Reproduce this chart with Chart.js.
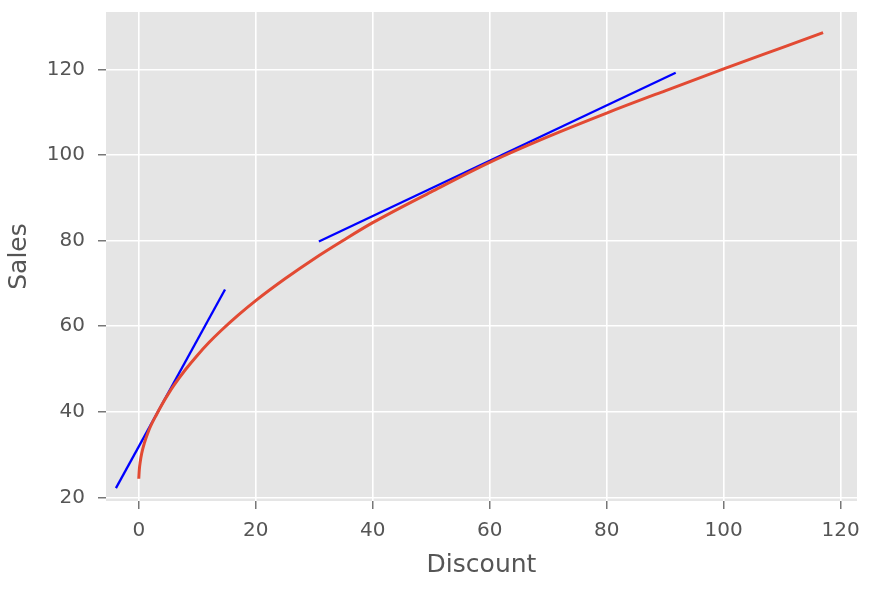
<!DOCTYPE html>
<html>
<head>
<meta charset="utf-8">
<script src="https://cdn.jsdelivr.net/npm/chart.js@4"></script>
<style>
  html, body { margin: 0; padding: 0; background: #fff; }
  #wrap { width: 874px; height: 592px; }
</style>
</head>
<body>
<div id="wrap"><canvas id="chart"></canvas></div>
<script>
// red curve
var discount = [0, 0.1, 0.25, 0.5, 1, 1.5, 2, 3, 4, 5, 6, 8, 10, 12, 14, 17, 20, 25, 30, 35, 40, 50, 60, 70, 80, 90, 100, 110, 117];
var sales = [24.4, 26.6, 28.3, 30.3, 32.9, 34.9, 36.6, 39.3, 41.8, 44.1, 46.2, 49.9, 53.2, 56.2, 58.9, 62.6, 66.0, 71.1, 75.8, 80.1, 84.2, 91.4, 98.3, 104.3, 109.8, 115.0, 120.1, 125.1, 128.6];

// blue tangent segments (end points)
var tan1X = [-3.9, 14.75];
var tan1Y = [22.2, 68.6];
var tan2X = [30.8, 91.8];
var tan2Y = [79.8, 119.2];

var xTicks = [0, 20, 40, 60, 80, 100, 120];
var yTicks = [20, 40, 60, 80, 100, 120];

function pts(xs, ys) {
    return xs.map(function (x, i) { return {x: x, y: ys[i]}; });
}

var panelBg = {
    id: 'panelBg',
    beforeDraw: function (chart) {
        var a = chart.chartArea, c = chart.ctx;
        c.save();
        c.fillStyle = '#e5e5e5';
        c.fillRect(a.left, a.top, a.right - a.left, a.bottom - a.top);
        c.restore();
    }
};

var tickFont = {family: 'DejaVu Sans', size: 20};
var titleFont = {family: 'DejaVu Sans', size: 25};

var ctx = document.getElementById('chart').getContext('2d');
var chart = new Chart(ctx, {
    type: 'line',
    data: {
        datasets: [
            {
                data: pts(discount, sales),
                borderColor: '#e24a33',
                borderWidth: 3,
                pointRadius: 0,
                cubicInterpolationMode: 'monotone'
            },
            {
                data: pts(tan1X, tan1Y),
                borderColor: '#0000ff',
                borderWidth: 2.3,
                pointRadius: 0
            },
            {
                data: pts(tan2X, tan2Y),
                borderColor: '#0000ff',
                borderWidth: 2.3,
                pointRadius: 0
            }
        ]
    },
    options: {
        responsive: true,
        maintainAspectRatio: false,
        animation: false,
        layout: {padding: {left: 0, right: 17, top: 12, bottom: 0}},
        plugins: {
            legend: {display: false},
            tooltip: {enabled: false}
        },
        scales: {
            x: {
                type: 'linear',
                min: -5.6,
                max: 122.8,
                afterBuildTicks: function (s) { s.ticks = xTicks.map(function (v) { return {value: v}; }); },
                afterFit: function (s) { s.height = 91; s.paddingLeft = 0; s.paddingRight = 0; },
                border: {display: false},
                grid: {color: '#ffffff', lineWidth: 1.6, tickColor: '#555555', tickLength: 8, tickWidth: 1.2},
                ticks: {color: '#555555', font: tickFont, padding: 10, maxRotation: 0},
                title: {display: true, text: 'Discount', color: '#555555', font: titleFont, padding: {top: 2, bottom: 12}}
            },
            y: {
                type: 'linear',
                min: 19.2,
                max: 133.4,
                afterBuildTicks: function (s) { s.ticks = yTicks.map(function (v) { return {value: v}; }); },
                afterFit: function (s) { s.width = 106; s.paddingTop = 0; s.paddingBottom = 0; },
                border: {display: false},
                grid: {color: '#ffffff', lineWidth: 1.6, tickColor: '#555555', tickLength: 8, tickWidth: 1.2},
                ticks: {color: '#555555', font: tickFont, padding: 13},
                title: {display: true, text: 'Sales', color: '#555555', font: titleFont, padding: {top: 4, bottom: 4}}
            }
        }
    },
    plugins: [panelBg]
});
</script>
</body>
</html>
